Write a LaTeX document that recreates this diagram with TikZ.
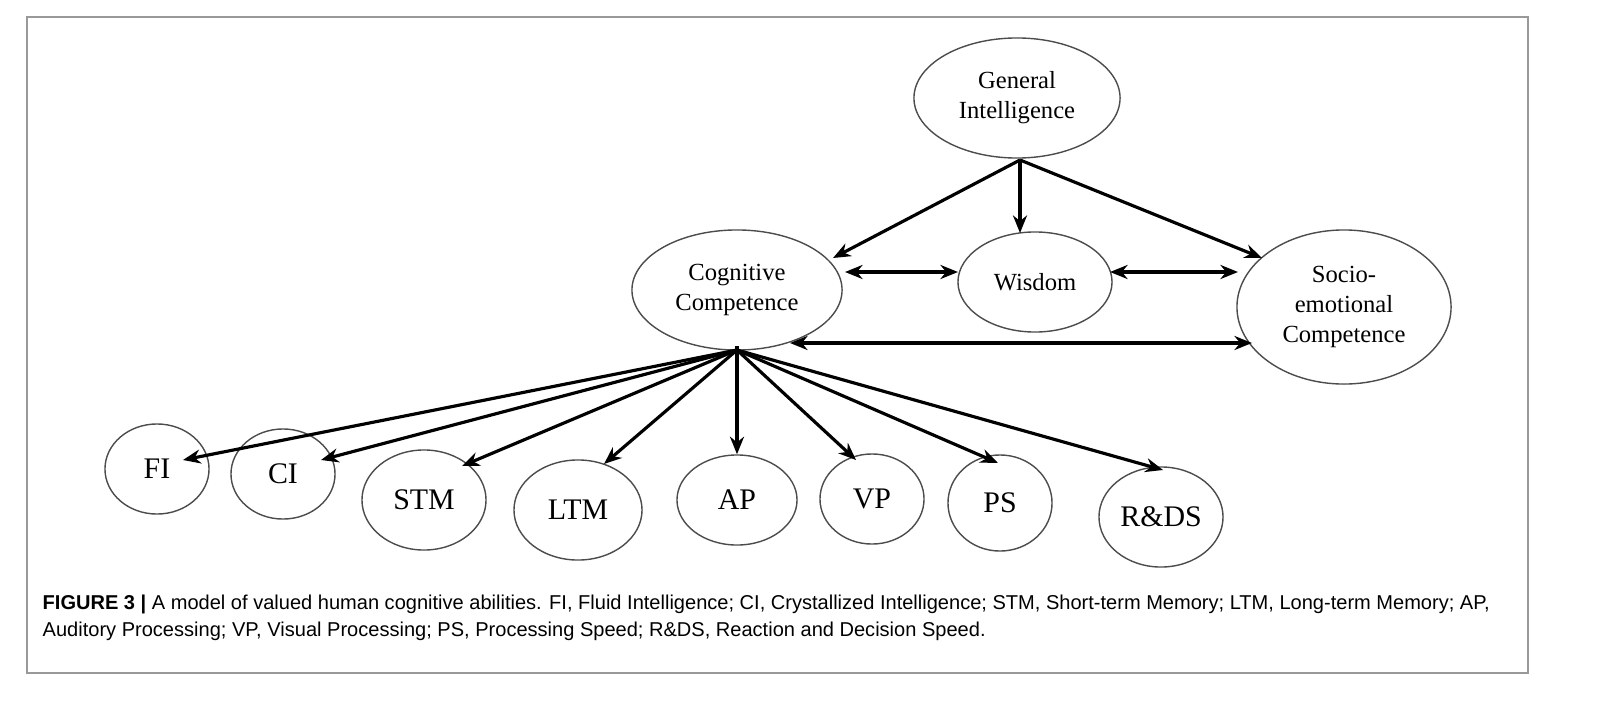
\documentclass[tikz,border=0pt]{standalone}
\usepackage{fontspec}
\setmainfont{Liberation Serif}
\newfontfamily\capfont{Liberation Sans}
\usetikzlibrary{shapes.geometric,arrows.meta}
\begin{document}
\begin{tikzpicture}[x=0.01cm,y=-0.01cm,
    oval/.style={ellipse, draw=black!70, line width=0.4pt, inner sep=0pt, align=center,
      font=\fontsize{7}{8.5}\selectfont},
    small/.style={oval, font=\fontsize{8.5}{10}\selectfont},
    arr/.style={-{Stealth[length=5pt,width=4pt]}, line width=0.9pt},
    darr/.style={{Stealth[length=5pt,width=4pt]}-{Stealth[length=5pt,width=4pt]}, line width=0.9pt}
]
\useasboundingbox (0,0) rectangle (1600,706);
\draw[black!40, line width=0.5pt] (27,17) rectangle (1528,673);

% upper level
\node[oval, minimum width=2.06cm, minimum height=1.2cm] (gi) at (1017,98) {General\\Intelligence};
\node[oval, minimum width=2.1cm, minimum height=1.2cm] (cc) at (737,290) {Cognitive\\Competence};
\node[oval, minimum width=1.54cm, minimum height=1cm] (wi) at (1035,282) {Wisdom};
\node[oval, minimum width=2.14cm, minimum height=1.54cm] (se) at (1344,307) {Socio-\\emotional\\Competence};

% abilities
\node[small, minimum width=1.04cm, minimum height=0.9cm] (fi) at (157,469) {FI};
\node[small, minimum width=1.04cm, minimum height=0.9cm] (ci) at (283,474) {CI};
\node[small, minimum width=1.24cm, minimum height=1cm] (stm) at (424,500) {STM};
\node[small, minimum width=1.28cm, minimum height=1cm] (ltm) at (578,510) {LTM};
\node[small, minimum width=1.2cm, minimum height=0.9cm] (ap) at (737,500) {AP};
\node[small, minimum width=1.04cm, minimum height=0.9cm] (vp) at (872,499) {VP};
\node[small, minimum width=1.04cm, minimum height=0.96cm] (ps) at (1000,503) {PS};
\node[small, minimum width=1.24cm, minimum height=1cm] (rds) at (1161,517) {R\&DS};

\coordinate (gh) at (1020,160);
\coordinate (wt) at (1020,233);
\coordinate (ch) at (737,350);

\draw[arr] (gh) -- (833,258);
\draw[arr] (gh) -- (wt);
\draw[arr] (gh) -- (1262,258);

\draw[darr] (845,272) -- (958,272);
\draw[darr] (1110,272) -- (1238,272);
\draw[darr] (790,343) -- (1252,343);

\draw[line width=0.9pt] (737,346) -- (ch);
\draw[arr] (ch) -- (183,460);
\draw[arr] (ch) -- (321,460);
\draw[arr] (ch) -- (462,466);
\draw[arr] (ch) -- (604,464);
\draw[arr] (ch) -- (ap.north);
\draw[arr] (ch) -- (856,460);
\draw[arr] (ch) -- (998,463);
\draw[arr] (ch) -- (1163,470);

\node[anchor=north west, align=left, inner sep=0pt, font=\capfont\fontsize{5.7}{7.8}\selectfont] (cap) at (42,594)
  {\textbf{FIGURE 3 |} A model of valued human cognitive abilities. FI, Fluid Intelligence; CI, Crystallized Intelligence; STM, Short-term Memory; LTM, Long-term Memory; AP,\\Auditory Processing; VP, Visual Processing; PS, Processing Speed; R\&DS, Reaction and Decision Speed.};
\end{tikzpicture}
\end{document}
